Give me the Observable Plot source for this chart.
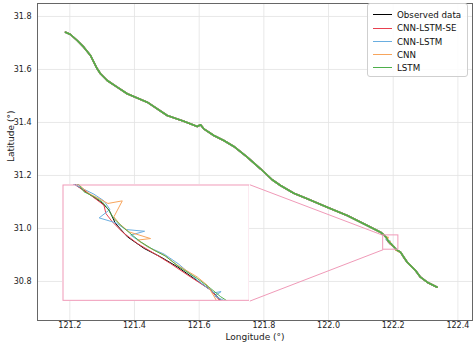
<!DOCTYPE html>
<html><head><meta charset="utf-8">
<script src="https://cdn.jsdelivr.net/npm/d3@7"></script>
<script src="https://cdn.jsdelivr.net/npm/@observablehq/plot@0.6"></script>
<style>
body{margin:0;background:#fff;font-family:"DejaVu Sans",sans-serif;}
#wrap{position:relative;width:474px;height:360px;overflow:hidden;}
#wrap svg{display:block;}
.inset{position:absolute;}
.lg-box{position:absolute;left:367px;top:3px;width:101px;height:74px;box-sizing:border-box;border:1px solid #cfcfcf;border-radius:3px;background:rgba(255,255,255,0.85);}
.lg-line{position:absolute;left:373px;width:19px;height:0;}
.lg-text{position:absolute;left:397px;font-size:8.7px;line-height:12px;color:#111;white-space:nowrap;}
</style></head><body><div id="wrap"></div><script>
// ---- data ----
const seriesNames = ["Observed data", "CNN-LSTM-SE", "CNN-LSTM", "CNN", "LSTM"];
const lonTicks = [121.2, 121.4, 121.6, 121.8, 122.0, 122.2, 122.4];
const latTicks = [30.8, 31.0, 31.2, 31.4, 31.6, 31.8];

// shared route before the zoom box
const routeLon = [121.1867,121.2021,121.2229,121.2433,121.2640,121.2847,121.2949,121.3157,121.3465,121.3775,121.4393,121.5012,121.5525,121.5940,121.6042,121.6143,121.6453,121.6762,121.7071,121.7486,121.7897,121.8258,121.8515,121.8927,121.9341,121.9959,122.0577,122.1196,122.1607];
const routeLat = [31.7408,31.7321,31.7094,31.6842,31.6528,31.6026,31.5838,31.5585,31.5332,31.5083,31.4766,31.4264,31.4049,31.3849,31.3913,31.3762,31.3509,31.3321,31.3094,31.2691,31.2253,31.1838,31.1623,31.1332,31.1121,31.0804,31.0491,31.0113,30.9860];
// shared route after the zoom box
const exitLon = [122.2226,122.2328,122.2433,122.2690,122.2844,122.3051,122.3360];
const exitLat = [30.9106,30.8917,30.8728,30.8415,30.8162,30.7974,30.7785];

// segments inside the zoom box
const obsLon  = [122.1719,122.1786,122.1807,122.1823,122.1853,122.1895,122.1936,122.1978,122.2020,122.2062,122.2091];
const obsLat  = [30.9744,30.9659,30.9621,30.9559,30.9497,30.9443,30.9404,30.9358,30.9304,30.9250,30.9195];
const seLon   = [122.1723,122.1761,122.1794,122.1799,122.1815,122.1840,122.1878,122.1920,122.1961,122.2011,122.2062,122.2087];
const seLat   = [30.9737,30.9690,30.9644,30.9605,30.9567,30.9520,30.9466,30.9420,30.9373,30.9311,30.9250,30.9195];
const clLon   = [122.1723,122.1769,122.1794,122.1809,122.1782,122.1824,122.1849,122.1896,122.1861,122.1903,122.1945,122.1982,122.2028,122.2070,122.2088,122.2072,122.2103];
const clLat   = [30.9737,30.9695,30.9664,30.9624,30.9585,30.9562,30.9531,30.9523,30.9505,30.9451,30.9417,30.9370,30.9296,30.9237,30.9243,30.9222,30.9195];
const cnnLon  = [122.1732,122.1757,122.1786,122.1804,122.1840,122.1819,122.1832,122.1857,122.1911,122.1878,122.1911,122.1945,122.1978,122.2028,122.2053,122.2070,122.2078];
const cnnLat  = [30.9737,30.9698,30.9670,30.9652,30.9664,30.9590,30.9559,30.9520,30.9489,30.9482,30.9443,30.9412,30.9366,30.9311,30.9273,30.9222,30.9195];
const lstmLon = [122.1732,122.1744,122.1769,122.1790,122.1803,122.1819,122.1840,122.1865,122.1886,122.1920,122.1949,122.1982,122.2028,122.2062,122.2087,122.2107];
const lstmLat = [30.9737,30.9706,30.9683,30.9659,30.9629,30.9582,30.9544,30.9505,30.9474,30.9435,30.9407,30.9358,30.9304,30.9257,30.9219,30.9195];

// zoom box and inset placement (lon/lat)
const zoomLon = [122.169, 122.216];
const zoomLat = [30.920, 30.974];
const insetLon = [121.1774, 121.7566];
const insetLat = [30.726, 31.165];

(function () {
// ---- styles ----
const palette = ["#000000", "#e8404f", "#6aaee0", "#f7a55c", "#4daf4a"];
const pink = "#f09ab8";

// ---- build table ----
const boxes = [[obsLon, obsLat], [seLon, seLat], [clLon, clLat], [cnnLon, cnnLat], [lstmLon, lstmLat]];
const rows = [];
seriesNames.forEach((name, i) => {
  const lon = [...routeLon, ...boxes[i][0], ...exitLon];
  const lat = [...routeLat, ...boxes[i][1], ...exitLat];
  lon.forEach((v, j) => rows.push({series: name, lon: v, lat: lat[j]}));
});

const W = 474, H = 360;
const main = Plot.plot({
  width: W, height: H,
  marginLeft: 37, marginRight: 2, marginTop: 3, marginBottom: 40,
  style: {fontFamily: "'DejaVu Sans', sans-serif", fontSize: "8px", color: "#222", background: "white"},
  x: {domain: [121.1001, 122.4452]},
  y: {domain: [30.6528, 31.849]},
  color: {domain: seriesNames, range: palette},
  marks: [
    Plot.gridX(lonTicks, {stroke: "#e3e3e3", strokeOpacity: 1, strokeWidth: 0.8}),
    Plot.gridY(latTicks, {stroke: "#e3e3e3", strokeOpacity: 1, strokeWidth: 0.8}),
    Plot.axisX(lonTicks, {tickSize: 0, tickPadding: 2, tickFormat: d3.format(".1f"), label: null, fontSize: 8}),
    Plot.axisY(latTicks, {tickSize: 0, tickPadding: 6, tickFormat: d3.format(".1f"), label: null, fontSize: 8}),
    Plot.text(["Longitude (°)"], {frameAnchor: "bottom", dy: 19, fontSize: 9, fill: "#222"}),
    Plot.text(["Latitude (°)"], {frameAnchor: "left", dx: -26, rotate: -90, fontSize: 9, fill: "#222"}),
    Plot.link([
      {x1: insetLon[1], y1: insetLat[1], x2: zoomLon[0], y2: zoomLat[1]},
      {x1: insetLon[1], y1: insetLat[0], x2: zoomLon[0], y2: zoomLat[0]}
    ], {x1: "x1", y1: "y1", x2: "x2", y2: "y2", stroke: pink, strokeWidth: 1}),
    Plot.line(rows, {x: "lon", y: "lat", z: "series", stroke: "series", strokeWidth: 1.6}),
    Plot.rect([{}], {x1: zoomLon[0], x2: zoomLon[1], y1: zoomLat[0], y2: zoomLat[1], fill: "none", stroke: pink, strokeWidth: 1}),
    Plot.frame({stroke: "#666", strokeWidth: 1})
  ]
});

const wrap = document.getElementById("wrap");
wrap.appendChild(main);

// inset placement from main scales
const sx = main.scale("x"), sy = main.scale("y");
const iLeft = sx.apply(insetLon[0]), iRight = sx.apply(insetLon[1]);
const iTop = sy.apply(insetLat[1]), iBottom = sy.apply(insetLat[0]);
const iw = iRight - iLeft, ih = iBottom - iTop;

const inset = Plot.plot({
  width: iw, height: ih,
  margin: 0,
  style: {background: "white", overflow: "hidden"},
  x: {domain: zoomLon, axis: null},
  y: {domain: zoomLat, axis: null},
  color: {domain: seriesNames, range: palette},
  marks: [
    Plot.line(rows, {x: "lon", y: "lat", z: "series", stroke: "series", strokeWidth: 1.0, clip: true}),
    Plot.frame({stroke: pink, strokeWidth: 1, inset: 0.5})
  ]
});
inset.classList.add("inset");
inset.style.left = iLeft + "px";
inset.style.top = iTop + "px";
wrap.appendChild(inset);

// legend
const box = document.createElement("div");
box.className = "lg-box";
wrap.appendChild(box);
seriesNames.forEach((name, i) => {
  const yc = 15 + 13.3 * i;
  const ln = document.createElement("div");
  ln.className = "lg-line";
  ln.style.top = (yc - 0.75) + "px";
  ln.style.borderTop = "1.5px solid " + palette[i];
  wrap.appendChild(ln);
  const tx = document.createElement("div");
  tx.className = "lg-text";
  tx.style.top = (yc - 6) + "px";
  tx.textContent = name;
  wrap.appendChild(tx);
});
})();
</script></body></html>
